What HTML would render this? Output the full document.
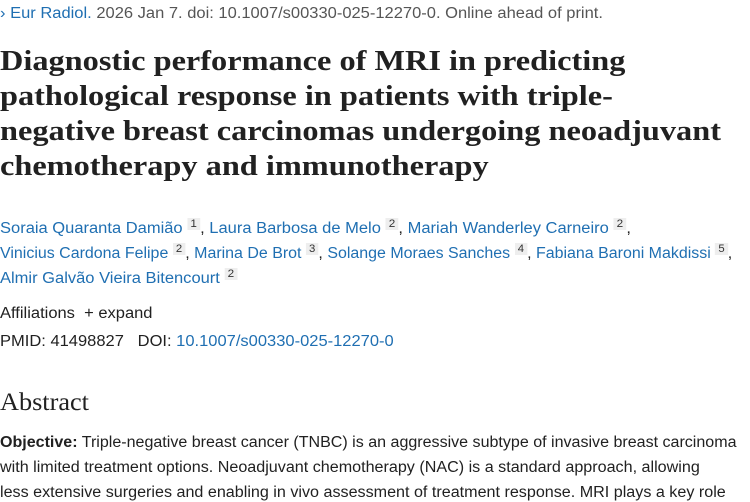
<!DOCTYPE html>
<html><head><meta charset="utf-8"><style>
body{margin:0;width:750px;height:500px;overflow:hidden;background:#fff;font-family:"Liberation Sans",sans-serif;color:#212121}
.l{position:absolute;left:0;white-space:nowrap;transform-origin:0 0}
.s{font-size:15.5px;transform:scaleX(1.04)}
a{color:#1f6fb2;text-decoration:none}
sup{font-size:11px;background:#eee;padding:0 3px;color:#333;vertical-align:6px}
.t{font-family:"Liberation Serif",serif;font-weight:bold;font-size:29px;color:#212121;transform:scaleX(1.115)}
</style></head><body>
<div class="l s" style="top:5px;color:#555;transform:scaleX(1.065)"><a>&#x203A; Eur Radiol.</a> 2026 Jan 7. doi: 10.1007/s00330-025-12270-0. Online ahead of print.</div>
<div class="l t" style="top:45px">Diagnostic performance of MRI in predicting</div>
<div class="l t" style="top:80px">pathological response in patients with triple-</div>
<div class="l t" style="top:115px">negative breast carcinomas undergoing neoadjuvant</div>
<div class="l t" style="top:150px">chemotherapy and immunotherapy</div>
<div class="l s" style="top:218px;transform:scaleX(1.065)"><a>Soraia Quaranta Damião</a> <sup>1</sup>, <a>Laura Barbosa de Melo</a> <sup>2</sup>, <a>Mariah Wanderley Carneiro</a> <sup>2</sup>,</div>
<div class="l s" style="top:243px;transform:scaleX(1.03)"><a>Vinicius Cardona Felipe</a> <sup>2</sup>, <a>Marina De Brot</a> <sup>3</sup>, <a>Solange Moraes Sanches</a> <sup>4</sup>, <a>Fabiana Baroni Makdissi</a> <sup>5</sup>,</div>
<div class="l s" style="top:268px;transform:scaleX(1.065)"><a>Almir Galvão Vieira Bitencourt</a> <sup>2</sup></div>
<div class="l s" style="top:305px;transform:scaleX(1.065)">Affiliations &nbsp;+ expand</div>
<div class="l s" style="top:333px;transform:scaleX(1.065)">PMID: 41498827 &nbsp;&nbsp;DOI: <a>10.1007/s00330-025-12270-0</a></div>
<div class="l" style="top:389px;font-family:'Liberation Serif',serif;font-size:25px;transform:scaleX(1.05)">Abstract</div>
<div class="l s" style="top:434px;transform:scaleX(1.035)"><b>Objective:</b> Triple-negative breast cancer (TNBC) is an aggressive subtype of invasive breast carcinoma</div>
<div class="l s" style="top:459px"><span>with limited treatment options. Neoadjuvant chemotherapy (NAC) is a standard approach, allowing</span></div>
<div class="l s" style="top:484px">less extensive surgeries and enabling in vivo assessment of treatment response. MRI plays a key role</div>
</body></html>
